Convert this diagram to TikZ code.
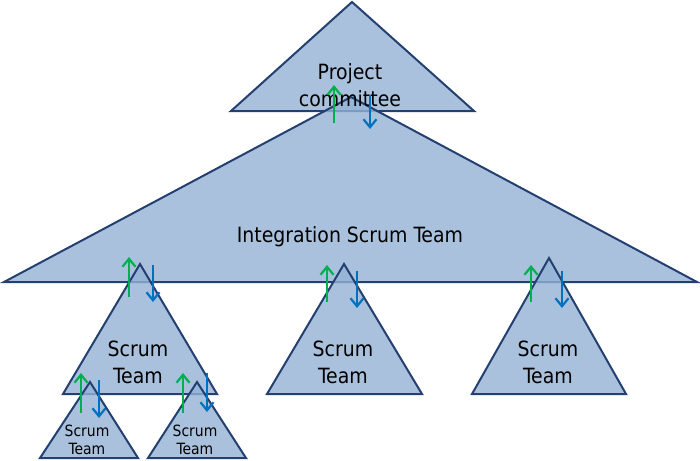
\documentclass[tikz,border=0pt]{standalone}
\usepackage{fontspec}
\setmainfont{DejaVu Sans Condensed}
\usetikzlibrary{arrows.meta}
\definecolor{tfill}{RGB}{147,178,213}
\definecolor{tline}{RGB}{36,64,112}
\definecolor{upg}{RGB}{0,176,80}
\definecolor{downb}{RGB}{0,112,192}
\tikzset{
  tri/.style={fill=tfill, fill opacity=0.8, draw=tline, line width=2pt, line join=miter},
  lbl/.style={text=black, align=center, inner sep=0pt},
  biglbl/.style={lbl, font=\fontsize{21}{27}\selectfont},
  smalllbl/.style={lbl, font=\fontsize{15.5}{18}\selectfont},
  uparr/.style={draw=upg, line width=2.8pt, -{Straight Barb[length=8pt,width=13pt,line width=2.2pt]}},
  downarr/.style={draw=downb, line width=2.8pt, -{Straight Barb[length=8pt,width=13pt,line width=2.2pt]}},
}
\begin{document}
\begin{tikzpicture}[x=1pt,y=-1pt]
\useasboundingbox (0,0) rectangle (700,460);
% triangles
\draw[tri] (352,2) -- (474,111) -- (231,111) -- cycle;
\draw[tri] (351,97) -- (697,282) -- (4,282) -- cycle;
\draw[tri] (140,264) -- (217,394) -- (63,394) -- cycle;
\draw[tri] (344,264) -- (422,394) -- (267,394) -- cycle;
\draw[tri] (549,258) -- (626,394) -- (472,394) -- cycle;
\draw[tri] (90,382) -- (138,458) -- (40,458) -- cycle;
\draw[tri] (197,382) -- (246,458) -- (148,458) -- cycle;
% labels
\node[biglbl] (pc) at (350,85) {Project\\committee};
\node[biglbl] (ist) at (350,237) {Integration Scrum Team};
\node[biglbl] (st1) at (138,362) {Scrum\\Team};
\node[biglbl] (st2) at (343,362) {Scrum\\Team};
\node[biglbl] (st3) at (548,362) {Scrum\\Team};
\node[smalllbl] (ss1) at (87,440) {Scrum\\Team};
\node[smalllbl] (ss2) at (195,440) {Scrum\\Team};
% arrow end points
\coordinate (a1s) at (334,123); \coordinate (a1e) at (334,85);
\coordinate (b1s) at (370,95);  \coordinate (b1e) at (370,129);
\coordinate (a2s) at (129,297); \coordinate (a2e) at (129,257);
\coordinate (b2s) at (153,265); \coordinate (b2e) at (153,302);
\coordinate (a3s) at (327,302); \coordinate (a3e) at (327,265);
\coordinate (b3s) at (357,271); \coordinate (b3e) at (357,308);
\coordinate (a4s) at (531,302); \coordinate (a4e) at (531,265);
\coordinate (b4s) at (562,271); \coordinate (b4e) at (562,308);
\coordinate (a5s) at (81,413);  \coordinate (a5e) at (81,373);
\coordinate (b5s) at (99,380);  \coordinate (b5e) at (99,418);
\coordinate (a6s) at (183,413); \coordinate (a6e) at (183,373);
\coordinate (b6s) at (207,373); \coordinate (b6e) at (207,412);
\foreach \i in {1,...,6}{
  \draw[uparr] (a\i s) -- (a\i e);
  \draw[downarr] (b\i s) -- (b\i e);
}
\end{tikzpicture}
\end{document}
